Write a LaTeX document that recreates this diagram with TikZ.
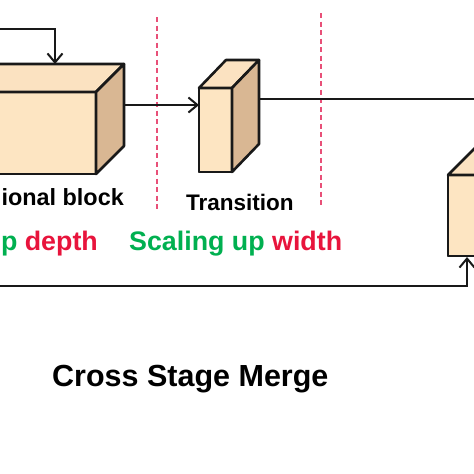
\documentclass[tikz,border=0pt]{standalone}
\usepackage{fontspec}
\setmainfont{Liberation Sans}
\usetikzlibrary{arrows.meta}
\definecolor{frontc}{RGB}{253,229,194}
\definecolor{topc}{RGB}{251,226,193}
\definecolor{sidec}{RGB}{217,183,147}
\definecolor{grn}{RGB}{0,176,80}
\definecolor{rd}{RGB}{232,20,60}
\definecolor{dashc}{RGB}{232,80,120}
\tikzset{
  edge/.style={line width=2pt, draw=black!90},
  arr/.style={edge, -{Straight Barb[length=9pt,width=15pt,line width=2pt]}},
  facefront/.style={fill=frontc, draw=black!90, line width=2.6pt, line join=round},
  facetop/.style={fill=topc, draw=black!90, line width=2.6pt, line join=round},
  faceside/.style={fill=sidec, draw=black!90, line width=2.6pt, line join=round},
  divider/.style={draw=dashc, line width=1.4pt, dash pattern=on 5pt off 3.5pt},
  lbl/.style={font=\bfseries\fontsize{22.5}{26}\selectfont, inner sep=0pt},
  biglbl/.style={font=\bfseries\fontsize{26.8}{30}\selectfont, inner sep=0pt},
  title/.style={font=\bfseries\fontsize{30.5}{34}\selectfont, inner sep=0pt}
}
% cube: #1 left x, #2 top y, #3 right x, #4 bottom y, #5 dx, #6 dy
\newcommand{\mycube}[6]{%
  \fill[facefront] (#1,#2) rectangle (#3,#4);
  \draw[facetop] (#1,#2) -- ++(#5,-#6) -- ++(#3-#1,0) -- (#3,#2) -- cycle;
  \draw[faceside] (#3,#2) -- ++(#5,-#6) -- ++(0,#4-#2) -- (#3,#4) -- cycle;
  \draw[facefront,fill=none] (#1,#2) rectangle (#3,#4);
}
\begin{document}
\begin{tikzpicture}[x=1pt,y=-1pt]
\useasboundingbox (0,0) rectangle (474,474);
\clip (0,0) rectangle (474,474);
\fill[white] (0,0) rectangle (474,474);

% dividers
\coordinate (d1t) at (157,17);
\coordinate (d1b) at (157,210);
\coordinate (d2t) at (321,13);
\coordinate (d2b) at (321,208);
\draw[divider] (d1t) -- (d1b);
\draw[divider] (d2t) -- (d2b);

% cubes
\mycube{-60}{92}{96}{174}{28}{28}
\mycube{199}{88}{232}{172}{27}{28}
\mycube{448}{175}{520}{256}{27}{27}

% named anchors of cubes
\coordinate (bigtop) at (55,64);
\coordinate (bigright) at (124,105);
\coordinate (trleft) at (199,105);
\coordinate (trright) at (259,99);
\coordinate (rbottom) at (467,257);

% connectors
\coordinate (inA) at (-5,29);
\coordinate (outB) at (480,99);
\coordinate (inC) at (-5,286);
\draw[arr] (inA) -| (bigtop);
\draw[arr] (bigright) -- (trleft);
\draw[edge] (trright) -- (outB);
\draw[arr] (inC) -| (rbottom);

% labels
\node[lbl, font=\bfseries\fontsize{23.4}{27}\selectfont, anchor=base east] (conv) at (124,205) {ional block};
\node[lbl, anchor=base west] (trans) at (186,210) {Transition};
\node[biglbl, anchor=base east] (depth) at (98,250) {\textcolor{grn}{p} \textcolor{rd}{depth}};
\node[biglbl, anchor=base west] (width) at (129,250) {\textcolor{grn}{Scaling up} \textcolor{rd}{width}};
\node[title, anchor=base west] (csm) at (52,386) {Cross Stage Merge};
\end{tikzpicture}
\end{document}
